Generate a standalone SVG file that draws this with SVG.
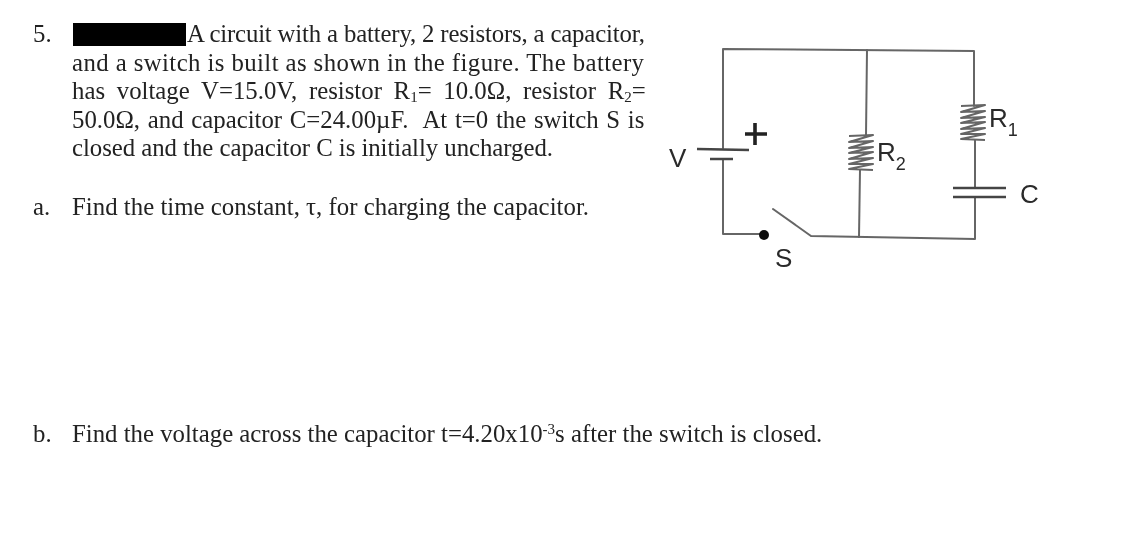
<svg xmlns="http://www.w3.org/2000/svg" width="1132" height="558" viewBox="0 0 1132 558">
<style>
.t{font-family:"Liberation Serif","Times New Roman",serif;font-size:24.8px;fill:#222}
.s{font-size:15px}
.l{font-family:"Liberation Sans",Arial,sans-serif;font-size:26px;fill:#2a2a2a}
.w{fill:none;stroke:#666;stroke-width:2;stroke-linecap:round;stroke-linejoin:round}
.p{fill:none;stroke:#444;stroke-width:2.6}
.r{fill:none;stroke:#666;stroke-width:2;stroke-linejoin:round}
</style>
<defs>
<filter id="b" x="-5%" y="-5%" width="110%" height="110%"><feGaussianBlur stdDeviation="0.45"/></filter>
<path id="z" d="M1 0L25 -1L1 6L25 5L1 12L25 11L1 17L25 16L1 23L25 22L1 28L25 28L1 33L25 34"/>
</defs>
<rect width="1132" height="558" fill="#fff"/>
<g filter="url(#b)">
<g id="question">
<text class="t" x="33" y="42">5.</text>
<rect x="73" y="23" width="113" height="23" fill="#000"/>
<text class="t" x="187" y="42" textLength="458" lengthAdjust="spacing">A circuit with a battery, 2 resistors, a capacitor,</text>
<text class="t" x="72" y="71" textLength="572" lengthAdjust="spacing">and a switch is built as shown in the figure.  The battery</text>
<text class="t" x="72" y="99" xml:space="preserve" word-spacing="5.5">has voltage V=15.0V, resistor R<tspan class="s" dy="3">1</tspan><tspan dy="-3">= 10.0Ω, resistor R</tspan><tspan class="s" dy="3">2</tspan><tspan dy="-3">=</tspan></text>
<text class="t" x="72" y="128" xml:space="preserve" word-spacing="1.5">50.0Ω, and capacitor C=24.00µF.  At t=0 the switch S is</text>
<text class="t" x="72" y="156" textLength="481" lengthAdjust="spacing">closed and the capacitor C is initially uncharged.</text>
<text class="t" x="33" y="215">a.</text>
<text class="t" x="72" y="215" textLength="517" lengthAdjust="spacing">Find the time constant, τ, for charging the capacitor.</text>
<text class="t" x="33" y="442">b.</text>
<text class="t" x="72" y="442" xml:space="preserve">Find the voltage across the capacitor t=4.20x10<tspan class="s" dy="-8">-3</tspan><tspan dy="8">s after the switch is closed.</tspan></text>
</g>
<g id="connectors">
<path class="w" d="M723 148V49L974 51V106"/>
<path class="w" d="M723 160V234H764"/>
<path class="w" d="M773 209L811 236L975 239V197"/>
<path class="w" d="M867 50L866 135"/>
<path class="w" d="M860 170L859 237"/>
<path class="w" d="M975 140V187"/>
</g>
<g id="battery">
<path class="p" d="M697 149L749 150M710 159H733"/>
<text class="l" x="669" y="167" font-size="22">V</text>
<path d="M755 123V145M745 134H767" fill="none" stroke="#222" stroke-width="3.6"/>
</g>
<g id="switch">
<circle cx="764" cy="235" r="5" fill="#111"/>
<text class="l" x="775" y="267">S</text>
</g>
<g id="R2">
<use href="#z" class="r" x="848" y="136"/>
<text class="l" x="877" y="161">R<tspan font-size="18" dy="9">2</tspan></text>
</g>
<g id="R1">
<use href="#z" class="r" x="960" y="106"/>
<text class="l" x="989" y="127">R<tspan font-size="18" dy="9">1</tspan></text>
</g>
<g id="capacitor">
<path class="p" d="M953 188H1006M953 197H1006"/>
<text class="l" x="1020" y="203">C</text>
</g>
</g>
</svg>
